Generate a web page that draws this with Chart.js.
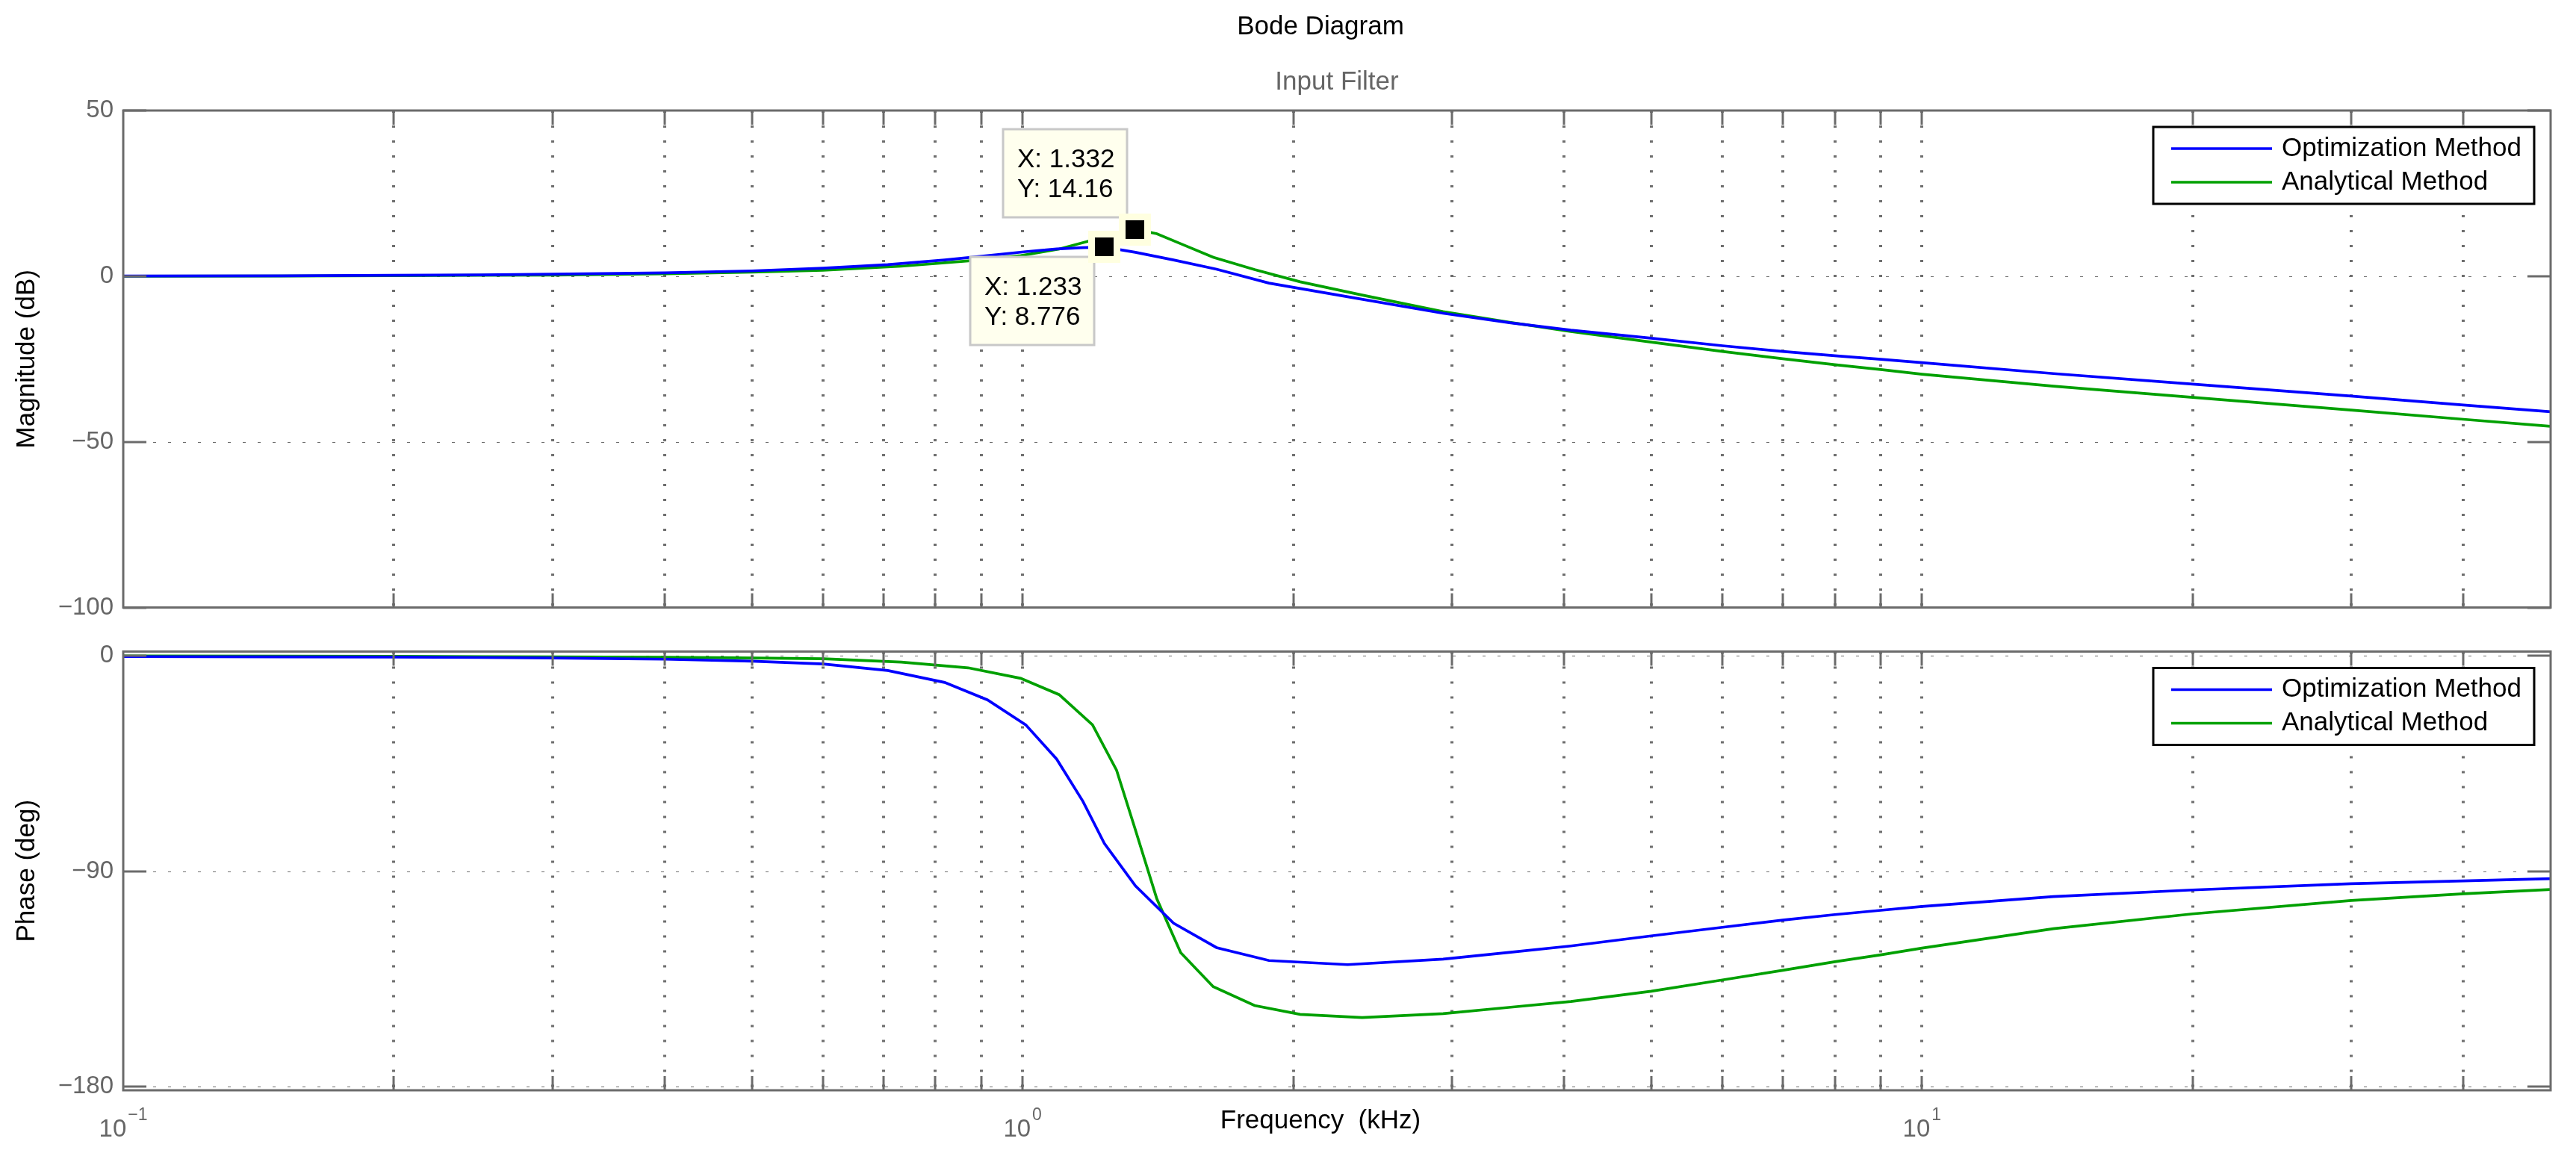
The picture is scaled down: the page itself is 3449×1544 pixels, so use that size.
<!DOCTYPE html>
<html>
<head>
<meta charset="utf-8">
<script src="https://cdn.jsdelivr.net/npm/chart.js@4.4.1/dist/chart.umd.min.js"></script>
<style>
  html, body { margin: 0; padding: 0; background: #ffffff; }
  #wrap { position: relative; width: 3449px; height: 1544px; background: #ffffff; }
  canvas { position: absolute; left: 0; }
</style>
</head>
<body>
<div id="wrap">
  <canvas id="magChart" width="3449" height="843" style="top:0px"></canvas>
  <canvas id="phaseChart" width="3449" height="701" style="top:843px"></canvas>
</div>
<script>
// ---------------- DATA ----------------
const seriesNames = ['Optimization Method', 'Analytical Method'];

// Optimization Method (blue)
const freqOpt  = [0.1, 0.15, 0.2, 0.25, 0.3, 0.4, 0.5, 0.6, 0.708, 0.819, 0.914, 1.008, 1.091, 1.167, 1.233,
                  1.335, 1.472, 1.643, 1.879, 2.298, 2.935, 3.49, 4.07, 5, 6, 7, 8, 9, 10, 14, 20, 30, 40, 50];
const magOpt   = [0.05, 0.12, 0.25, 0.4, 0.6, 1.0, 1.6, 2.4, 3.5, 4.9, 6.2, 7.4, 8.2, 8.6, 8.776,
                  7.2, 4.9, 2.1, -2.1, -6.2, -11.2, -14.1, -16.3, -18.7, -21.0, -22.7, -24.0, -25.1, -26.1, -29.4, -32.6, -36.2, -38.9, -40.9];
const phaseOpt = [-0.3, -0.4, -0.5, -0.7, -0.9, -1.4, -2.2, -3.4, -6.1, -11.1, -18.4, -28.8, -43.1, -60.8, -78.4,
                  -96.1, -111.7, -121.9, -127.3, -129.0, -126.7, -123.8, -121.2, -117.0, -113.4, -110.4, -108.1, -106.3, -104.7, -100.6, -97.8, -95.2, -94.0, -93.1];

// Analytical Method (green)
const freqAna  = [0.1, 0.15, 0.2, 0.25, 0.3, 0.4, 0.5, 0.6, 0.733, 0.87, 0.995, 1.098, 1.196, 1.272, 1.332,
                  1.41, 1.499, 1.629, 1.811, 2.035, 2.385, 2.935, 3.49, 4.07, 5, 6, 7, 8, 9, 10, 14, 20, 30, 40, 50];
const magAna   = [0.0, 0.05, 0.15, 0.25, 0.35, 0.7, 1.2, 1.8, 3.0, 4.6, 6.2, 8.2, 10.9, 12.8, 14.16,
                  12.8, 9.8, 5.7, 2.0, -1.7, -5.7, -10.7, -14.0, -16.7, -19.9, -22.7, -24.9, -26.7, -28.2, -29.6, -33.2, -36.6, -40.4, -43.2, -45.3];
const phaseAna = [0, -0.1, -0.2, -0.3, -0.4, -0.6, -0.9, -1.2, -2.6, -5.0, -9.4, -16.2, -28.8, -47.8, -71.6,
                  -101.5, -124.0, -138.2, -146.1, -149.8, -151.1, -149.5, -146.8, -144.4, -140.1, -135.4, -131.4, -127.8, -124.9, -122.1, -114.0, -107.8, -102.2, -99.4, -97.6];

// Axes / ticks
const xTickValues   = [0.1, 0.2, 0.3, 0.4, 0.5, 0.6, 0.7, 0.8, 0.9, 1, 2, 3, 4, 5, 6, 7, 8, 9, 10, 20, 30, 40, 50];
const xDecadeValues = [0.1, 1, 10];
const xDecadeExps   = ['\u22121', '0', '1'];
const magTicks      = [-100, -50, 0, 50];
const phaseTicks    = [-180, -90, 0];

// Data tips
const dataTipX = [1.332, 1.233];
const dataTipY = [14.16, 8.776];

// ---------------- STYLE ----------------
const FONT = '"Liberation Sans", Arial, Helvetica, sans-serif';
const AXIS_GRAY = '#6b6b6b';
const TEXT_GRAY = '#666666';
const GRID_GRAY = '#6e6e6e';
const BLUE = '#0000ff';
const GREEN = '#00a000';
const tipBoxOffsets = [{dx: -176, dy: -134}, {dx: -180, dy: 13}];

function pts(xs, ys) { return xs.map((x, i) => ({x: x, y: ys[i]})); }
function minusFmt(v) { return v < 0 ? '\u2212' + Math.abs(v) : String(v); }

// grid, box, inward ticks
const matlabAxes = {
  id: 'matlabAxes',
  beforeDatasetsDraw(chart) {
    const {ctx, chartArea: a, scales} = chart;
    const x = scales.x, y = scales.y;
    ctx.save();
    ctx.strokeStyle = GRID_GRAY;
    ctx.lineWidth = 4;
    ctx.setLineDash([3, 17]);
    for (const t of x.ticks) {
      const px = Math.round(x.getPixelForValue(t.value));
      if (px < a.left + 4 || px > a.right - 4) continue;
      ctx.beginPath(); ctx.moveTo(px, a.top); ctx.lineTo(px, a.bottom); ctx.stroke();
    }
    ctx.lineWidth = 1.2;
    ctx.setLineDash([4, 16]);
    for (const t of y.ticks) {
      const py = Math.round(y.getPixelForValue(t.value)) + 0.5;
      if (py < a.top + 4 || py > a.bottom - 4) continue;
      ctx.beginPath(); ctx.moveTo(a.left, py); ctx.lineTo(a.right, py); ctx.stroke();
    }
    ctx.restore();
  },
  afterDatasetsDraw(chart) {
    const {ctx, chartArea: a, scales} = chart;
    const x = scales.x, y = scales.y;
    ctx.save();
    ctx.setLineDash([]);
    ctx.strokeStyle = AXIS_GRAY;
    ctx.lineWidth = 3;
    ctx.strokeRect(a.left, a.top, a.right - a.left, a.bottom - a.top);
    for (const t of x.ticks) {
      const px = Math.round(x.getPixelForValue(t.value));
      if (px < a.left + 4 || px > a.right - 4) continue;
      ctx.beginPath(); ctx.moveTo(px, a.top); ctx.lineTo(px, a.top + 19); ctx.stroke();
      ctx.beginPath(); ctx.moveTo(px, a.bottom); ctx.lineTo(px, a.bottom - 19); ctx.stroke();
    }
    for (const t of y.ticks) {
      const py = Math.round(y.getPixelForValue(t.value));
      ctx.beginPath(); ctx.moveTo(a.left, py); ctx.lineTo(a.left + 31, py); ctx.stroke();
      ctx.beginPath(); ctx.moveTo(a.right, py); ctx.lineTo(a.right - 31, py); ctx.stroke();
    }
    ctx.restore();
  }
};

// legend box inside plot (top-right)
const innerLegend = {
  id: 'innerLegend',
  afterDraw(chart) {
    const {ctx, chartArea: a} = chart;
    const w = 510, h = 103;
    const bx = a.right - 22 - w, by = a.top + 22;
    ctx.save();
    ctx.fillStyle = '#ffffff';
    ctx.fillRect(bx, by, w, h);
    ctx.lineWidth = 3;
    ctx.strokeStyle = '#000000';
    ctx.strokeRect(bx, by, w, h);
    ctx.font = '35px ' + FONT;
    ctx.textBaseline = 'middle';
    ctx.textAlign = 'left';
    chart.data.datasets.forEach((ds, i) => {
      const yy = by + 29 + 45 * i;
      ctx.strokeStyle = ds.borderColor;
      ctx.lineWidth = 3.5;
      ctx.beginPath(); ctx.moveTo(bx + 24, yy); ctx.lineTo(bx + 159, yy); ctx.stroke();
      ctx.fillStyle = '#000000';
      ctx.fillText(ds.label, bx + 172, yy);
    });
    ctx.restore();
  }
};

// y axis title (rotated)
const yTitle = {
  id: 'yTitle',
  afterDraw(chart, args, opts) {
    const {ctx, chartArea: a} = chart;
    ctx.save();
    ctx.translate(46, (a.top + a.bottom) / 2);
    ctx.rotate(-Math.PI / 2);
    ctx.font = '35px ' + FONT;
    ctx.fillStyle = '#000000';
    ctx.textAlign = 'center';
    ctx.textBaseline = 'alphabetic';
    ctx.fillText(opts.text, 0, 0);
    ctx.restore();
  }
};

// titles + data tips for magnitude chart
const magExtras = {
  id: 'magExtras',
  afterDraw(chart) {
    const {ctx, chartArea: a, scales} = chart;
    const cx = (a.left + a.right) / 2;
    ctx.save();
    ctx.textAlign = 'center';
    ctx.textBaseline = 'alphabetic';
    ctx.font = '35px ' + FONT;
    ctx.fillStyle = '#000000';
    ctx.fillText('Bode Diagram', cx - 22, 46);
    ctx.fillStyle = TEXT_GRAY;
    ctx.fillText('Input Filter', cx, 120);

    // data tips
    const tips = dataTipX.map((vx, i) => ({
      vx: vx, vy: dataTipY[i],
      px: scales.x.getPixelForValue(vx),
      py: scales.y.getPixelForValue(dataTipY[i])
    }));
    tips.forEach((t, i) => {
      const bx = Math.round(t.px + tipBoxOffsets[i].dx), by = Math.round(t.py + tipBoxOffsets[i].dy);
      ctx.fillStyle = '#ffffee';
      ctx.fillRect(bx, by, 166, 118);
      ctx.strokeStyle = '#c8c8c8';
      ctx.lineWidth = 3;
      ctx.strokeRect(bx, by, 166, 118);
      ctx.fillStyle = '#000000';
      ctx.textAlign = 'left';
      ctx.font = '35px ' + FONT;
      ctx.fillText('X: ' + t.vx, bx + 19, by + 51);
      ctx.fillText('Y: ' + t.vy, bx + 19, by + 91);
    });
    tips.forEach((t) => {
      ctx.fillStyle = '#ffffe0';
      ctx.fillRect(Math.round(t.px - 21.5), Math.round(t.py - 21.5), 43, 43);
      ctx.fillStyle = '#000000';
      ctx.fillRect(Math.round(t.px - 12.5), Math.round(t.py - 12.5), 25, 25);
    });
    ctx.restore();
  }
};

// x tick labels (10^n) and x title for phase chart
const phaseExtras = {
  id: 'phaseExtras',
  afterDraw(chart) {
    const {ctx, chartArea: a, scales} = chart;
    ctx.save();
    ctx.fillStyle = TEXT_GRAY;
    ctx.textBaseline = 'alphabetic';
    ctx.textAlign = 'left';
    xDecadeValues.forEach((v, i) => {
      const px = scales.x.getPixelForValue(v);
      ctx.font = '33px ' + FONT;
      const w1 = ctx.measureText('10').width;
      ctx.font = '23px ' + FONT;
      const w2 = ctx.measureText(xDecadeExps[i]).width;
      const sx = px - (w1 + 2 + w2) / 2;
      ctx.font = '33px ' + FONT;
      ctx.fillText('10', sx, a.bottom + 62);
      ctx.font = '23px ' + FONT;
      ctx.fillText(xDecadeExps[i], sx + w1 + 2, a.bottom + 40);
    });
    ctx.fillStyle = '#000000';
    ctx.font = '35px ' + FONT;
    ctx.textAlign = 'center';
    ctx.fillText('Frequency  (kHz)', (a.left + a.right) / 2 - 22, a.bottom + 51);
    ctx.restore();
  }
};

function xScale(heightPx) {
  return {
    type: 'logarithmic',
    min: 0.1, max: 50,
    grid: {display: false, drawTicks: false},
    border: {display: false},
    ticks: {display: false},
    afterBuildTicks: (s) => { s.ticks = xTickValues.map(v => ({value: v})); },
    afterFit: (s) => { s.height = heightPx; }
  };
}
function yScale(min, max, tickVals) {
  return {
    type: 'linear',
    min: min, max: max,
    grid: {display: false, drawTicks: false},
    border: {display: false},
    ticks: {
      color: TEXT_GRAY,
      padding: 13,
      autoSkip: false,
      font: {family: FONT, size: 33, lineHeight: 1},
      callback: (v) => minusFmt(v)
    },
    afterBuildTicks: (s) => { s.ticks = tickVals.map(v => ({value: v})); },
    afterFit: (s) => { s.width = 165; }
  };
}
function lineDs(label, xs, ys, color) {
  return {
    label: label,
    data: pts(xs, ys),
    borderColor: color,
    backgroundColor: color,
    borderWidth: 3.7,
    pointRadius: 0,
    tension: 0,
    fill: false
  };
}

const common = {
  responsive: false,
  devicePixelRatio: 1,
  animation: false,
  events: [],
  parsing: true
};

new Chart(document.getElementById('magChart'), {
  type: 'line',
  data: {
    datasets: [
      lineDs(seriesNames[0], freqOpt, magOpt, BLUE),
      lineDs(seriesNames[1], freqAna, magAna, GREEN)
    ]
  },
  options: Object.assign({}, common, {
    layout: {padding: {top: 148, left: 0, right: 34, bottom: 21}},
    scales: {x: xScale(0), y: yScale(-100, 50, magTicks)},
    plugins: {legend: {display: false}, tooltip: {enabled: false}, yTitle: {text: 'Magnitude (dB)'}}
  }),
  plugins: [matlabAxes, innerLegend, yTitle, magExtras]
});

new Chart(document.getElementById('phaseChart'), {
  type: 'line',
  data: {
    datasets: [
      lineDs(seriesNames[0], freqOpt, phaseOpt, BLUE),
      lineDs(seriesNames[1], freqAna, phaseAna, GREEN)
    ]
  },
  options: Object.assign({}, common, {
    layout: {padding: {top: 20, left: 0, right: 34, bottom: 0}},
    scales: {x: xScale(84), y: yScale(-181.5, 1.8, phaseTicks)},
    plugins: {legend: {display: false}, tooltip: {enabled: false}, yTitle: {text: 'Phase (deg)'}}
  }),
  plugins: [matlabAxes, innerLegend, yTitle, phaseExtras]
});
</script>
</body>
</html>
